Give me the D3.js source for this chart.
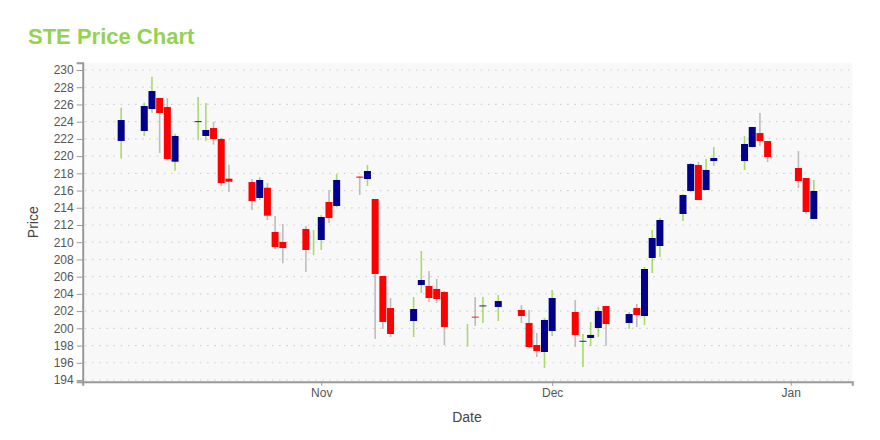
<!DOCTYPE html>
<html>
<head>
<meta charset="utf-8">
<script src="https://cdn.jsdelivr.net/npm/d3@7"></script>
<style>
  body { margin: 0; background: #fff; }
  svg { font-family: "Liberation Sans", Arial, sans-serif; }
</style>
</head>
<body>
<svg id="chart" width="880" height="440"></svg>
<script>
// daily candles (STE, Oct 2023 - Jan 2024)
var dates = ["2023-10-06","2023-10-09","2023-10-10","2023-10-11","2023-10-12","2023-10-13",
  "2023-10-16","2023-10-17","2023-10-18","2023-10-19","2023-10-20",
  "2023-10-23","2023-10-24","2023-10-25","2023-10-26","2023-10-27",
  "2023-10-30","2023-10-31","2023-11-01","2023-11-02","2023-11-03",
  "2023-11-06","2023-11-07","2023-11-08","2023-11-09","2023-11-10",
  "2023-11-13","2023-11-14","2023-11-15","2023-11-16","2023-11-17",
  "2023-11-20","2023-11-21","2023-11-22","2023-11-24",
  "2023-11-27","2023-11-28","2023-11-29","2023-11-30","2023-12-01",
  "2023-12-04","2023-12-05","2023-12-06","2023-12-07","2023-12-08",
  "2023-12-11","2023-12-12","2023-12-13","2023-12-14","2023-12-15",
  "2023-12-18","2023-12-19","2023-12-20","2023-12-21","2023-12-22",
  "2023-12-26","2023-12-27","2023-12-28","2023-12-29",
  "2024-01-02","2024-01-03","2024-01-04"];
var opens  = [221.76,222.92,225.47,226.75,225.70,219.35,
  223.95,222.34,223.26,221.99,217.38,
  216.99,215.14,216.33,211.19,210.03,
  211.54,210.20,210.26,214.67,214.21,
  217.62,217.34,215.02,206.08,202.36,
  200.85,205.03,204.92,204.57,204.22,
  199.50,201.35,202.55,202.48,
  202.13,200.62,198.06,197.25,199.69,
  201.90,198.45,198.88,200.04,202.59,
  200.62,202.36,201.43,208.17,209.56,
  213.28,215.95,218.97,216.06,219.43,
  219.43,221.06,222.68,221.75,
  218.62,217.46,212.70];
var highs  = [225.62,226.20,229.22,226.80,226.75,222.57,
  226.86,226.17,223.96,222.14,219.00,
  217.34,217.57,216.88,213.04,212.12,
  211.88,211.42,213.16,216.06,217.92,
  217.65,218.97,215.02,206.08,203.52,
  203.64,208.98,206.66,205.73,204.34,
  200.50,203.64,203.64,203.87,
  202.71,202.13,199.46,201.20,204.45,
  203.29,199.34,200.73,202.48,202.59,
  201.90,202.83,207.12,211.42,212.81,
  215.60,219.20,219.32,219.66,221.06,
  222.34,223.40,225.00,221.75,
  220.59,217.46,217.23];
var lows   = [219.70,222.34,225.04,220.36,219.55,218.31,
  221.84,221.75,221.33,216.53,215.87,
  213.74,214.90,212.58,209.21,207.56,
  206.54,208.52,209.10,212.23,214.09,
  215.48,216.53,198.76,199.92,198.99,
  198.99,204.10,203.06,202.94,198.06,
  197.87,200.27,200.62,200.85,
  200.62,197.70,196.67,195.39,199.11,
  197.83,195.51,197.95,198.99,197.95,
  199.92,200.16,200.39,206.43,208.28,
  212.46,215.80,214.90,216.06,218.85,
  218.39,221.00,221.17,219.32,
  216.30,213.28,212.70];
var closes = [224.19,225.82,227.56,225.01,219.66,222.34,
  224.05,223.03,221.99,216.88,217.03,
  214.79,217.23,213.08,209.45,209.33,
  209.10,210.20,212.93,212.81,217.23,
  217.50,218.27,206.31,200.74,199.34,
  202.24,205.61,203.52,203.41,200.16,
  199.50,201.25,202.65,203.17,
  201.43,197.83,197.37,200.97,203.52,
  199.23,198.55,199.23,202.01,200.50,
  201.66,201.55,206.89,210.49,212.58,
  215.48,219.08,214.90,218.39,219.78,
  221.41,223.38,221.75,219.90,
  217.11,213.51,215.95];

var xTicks = ["2023-11-01","2023-12-01","2024-01-01"];
var yTicks = [194,196,198,200,202,204,206,208,210,212,214,216,218,220,222,224,226,228,230];

var parse = d3.utcParse("%Y-%m-%d");
var candles = dates.map(function(d, i) {
  return {date: parse(d), o: opens[i], h: highs[i], l: lows[i], c: closes[i]};
});

var svg = d3.select("#chart");
var plotLeft = 82.7, plotRight = 852.3, plotTop = 62.7, plotBottom = 381.7;

var x = d3.scaleUtc()
  .domain([parse("2023-10-01"), parse("2024-01-09")])
  .range([plotLeft, plotRight]);
var y = d3.scaleLinear()
  .domain([193.8, 230.85])
  .range([plotBottom, plotTop]);

svg.append("text")
  .attr("x", 28).attr("y", 44)
  .style("font-size", "22px").style("font-weight", "bold")
  .style("fill", "#94d352")
  .text("STE Price Chart");

svg.append("rect")
  .attr("x", plotLeft).attr("y", plotTop)
  .attr("width", plotRight - plotLeft).attr("height", plotBottom - plotTop)
  .style("fill", "#f8f8f8");

// dotted grid
svg.append("g").selectAll("line")
  .data(yTicks)
  .enter().append("line")
  .attr("x1", plotLeft + 2).attr("x2", plotRight)
  .attr("y1", function(d) { return y(d); })
  .attr("y2", function(d) { return y(d); })
  .style("stroke", "#cfcfcf").style("stroke-width", 1.2)
  .style("stroke-dasharray", "1.5,5.7");

// wicks
svg.append("g").selectAll("line")
  .data(candles)
  .enter().append("line")
  .attr("x1", function(d) { return x(d.date); })
  .attr("x2", function(d) { return x(d.date); })
  .attr("y1", function(d) { return y(d.h); })
  .attr("y2", function(d) { return y(d.l); })
  .style("stroke", function(d) { return d.c >= d.o ? "#a8da6c" : "#bdbdbd"; })
  .style("stroke-width", 1.6);

// bodies
var bw = 7;
svg.append("g").selectAll("rect")
  .data(candles)
  .enter().append("rect")
  .attr("x", function(d) { return x(d.date) - bw / 2; })
  .attr("width", bw)
  .attr("y", function(d) { return y(Math.max(d.o, d.c)); })
  .attr("height", function(d) { return Math.abs(y(d.o) - y(d.c)); })
  .style("fill", function(d) { return d.c >= d.o ? "#00008b" : "#ff0000"; });

// axes
var yAxis = svg.append("g")
  .attr("transform", "translate(" + plotLeft + ",0)")
  .call(d3.axisLeft(y).tickValues(yTicks).tickSize(6).tickPadding(3));
var xAxis = svg.append("g")
  .attr("transform", "translate(0," + plotBottom + ")")
  .call(d3.axisBottom(x).tickValues(xTicks.map(parse))
    .tickFormat(d3.utcFormat("%b")).tickSize(4).tickPadding(3));

[yAxis, xAxis].forEach(function(a) {
  a.select(".domain").style("stroke", "#999").style("stroke-width", 2);
  a.selectAll(".tick line").style("stroke", "#999");
  a.selectAll(".tick text").style("fill", "#555").style("font-size", "12px")
    .style("font-family", "Liberation Sans, Arial, sans-serif");
});

svg.append("text")
  .attr("transform", "translate(38," + ((plotTop + plotBottom) / 2) + ")rotate(-90)")
  .attr("text-anchor", "middle")
  .style("font-size", "14px").style("fill", "#444")
  .text("Price");
svg.append("text")
  .attr("x", 467).attr("y", 422)
  .attr("text-anchor", "middle")
  .style("font-size", "14px").style("fill", "#444")
  .text("Date");
</script>
</body>
</html>
